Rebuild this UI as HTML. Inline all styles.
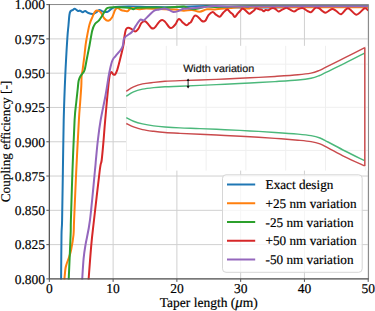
<!DOCTYPE html>
<html><head><meta charset="utf-8"><style>
html,body{margin:0;padding:0;background:#fff;width:375px;height:311px;overflow:hidden}
svg{display:block}
text{font-family:"Liberation Serif",serif;font-size:13.5px;fill:#000;text-rendering:geometricPrecision;stroke:#000;stroke-width:0.18px}
.sans{font-family:"Liberation Sans",sans-serif}
</style></head><body>
<svg width="375" height="311" viewBox="0 0 375 311">
<line x1="49.35" y1="4.6" x2="49.35" y2="278.9" stroke="#d0d0d0" stroke-width="1"/>
<line x1="113.12" y1="4.6" x2="113.12" y2="278.9" stroke="#d0d0d0" stroke-width="1"/>
<line x1="176.89" y1="4.6" x2="176.89" y2="278.9" stroke="#d0d0d0" stroke-width="1"/>
<line x1="240.66" y1="4.6" x2="240.66" y2="278.9" stroke="#d0d0d0" stroke-width="1"/>
<line x1="304.43" y1="4.6" x2="304.43" y2="278.9" stroke="#d0d0d0" stroke-width="1"/>
<line x1="368.20" y1="4.6" x2="368.20" y2="278.9" stroke="#d0d0d0" stroke-width="1"/>
<line x1="49.35" y1="278.90" x2="368.2" y2="278.90" stroke="#d0d0d0" stroke-width="1"/>
<line x1="49.35" y1="244.61" x2="368.2" y2="244.61" stroke="#d0d0d0" stroke-width="1"/>
<line x1="49.35" y1="210.32" x2="368.2" y2="210.32" stroke="#d0d0d0" stroke-width="1"/>
<line x1="49.35" y1="176.04" x2="368.2" y2="176.04" stroke="#d0d0d0" stroke-width="1"/>
<line x1="49.35" y1="141.75" x2="368.2" y2="141.75" stroke="#d0d0d0" stroke-width="1"/>
<line x1="49.35" y1="107.46" x2="368.2" y2="107.46" stroke="#d0d0d0" stroke-width="1"/>
<line x1="49.35" y1="73.18" x2="368.2" y2="73.18" stroke="#d0d0d0" stroke-width="1"/>
<line x1="49.35" y1="38.89" x2="368.2" y2="38.89" stroke="#d0d0d0" stroke-width="1"/>
<line x1="49.35" y1="4.60" x2="368.2" y2="4.60" stroke="#d0d0d0" stroke-width="1"/>
<rect x="126.4" y="45.8" width="241.90" height="124.80" fill="#fff"/>
<line x1="126.50" y1="45.8" x2="126.50" y2="170.6" stroke="#efefef" stroke-width="1"/>
<line x1="166.30" y1="45.8" x2="166.30" y2="170.6" stroke="#efefef" stroke-width="1"/>
<line x1="206.10" y1="45.8" x2="206.10" y2="170.6" stroke="#efefef" stroke-width="1"/>
<line x1="245.90" y1="45.8" x2="245.90" y2="170.6" stroke="#efefef" stroke-width="1"/>
<line x1="285.70" y1="45.8" x2="285.70" y2="170.6" stroke="#efefef" stroke-width="1"/>
<line x1="325.50" y1="45.8" x2="325.50" y2="170.6" stroke="#efefef" stroke-width="1"/>
<line x1="365.30" y1="45.8" x2="365.30" y2="170.6" stroke="#efefef" stroke-width="1"/>
<line x1="126.4" y1="64.2" x2="368.3" y2="64.2" stroke="#efefef" stroke-width="1"/>
<line x1="126.4" y1="107.3" x2="368.3" y2="107.3" stroke="#efefef" stroke-width="1"/>
<line x1="126.4" y1="150.4" x2="368.3" y2="150.4" stroke="#efefef" stroke-width="1"/>
<path d="M126.30,91.30 C127.50,90.57 130.80,88.13 133.50,86.90 C136.20,85.67 139.13,84.65 142.50,83.90 C145.87,83.15 149.95,82.83 153.70,82.40 C157.45,81.97 160.62,81.60 165.00,81.30 C169.38,81.00 174.17,80.81 180.00,80.60 C185.83,80.39 192.50,80.28 200.00,80.02 C207.50,79.75 216.67,79.36 225.00,79.00 C233.33,78.64 241.67,78.27 250.00,77.84 C258.33,77.41 267.00,76.92 275.00,76.41 C283.00,75.89 292.00,75.32 298.00,74.77 C304.00,74.22 307.50,73.79 311.00,73.10 C314.50,72.41 316.50,71.58 319.00,70.60 C321.50,69.62 321.67,69.37 326.00,67.20 C330.33,65.03 338.53,60.87 345.00,57.60 C351.47,54.33 361.50,49.27 364.80,47.60" fill="none" stroke="#c94a4c" stroke-width="1.45"/>
<path d="M126.30,96.30 C127.50,95.55 130.80,93.00 133.50,91.80 C136.20,90.60 139.13,89.80 142.50,89.10 C145.87,88.40 149.95,87.98 153.70,87.60 C157.45,87.22 160.62,87.03 165.00,86.80 C169.38,86.57 174.17,86.44 180.00,86.20 C185.83,85.96 192.50,85.68 200.00,85.36 C207.50,85.03 216.67,84.64 225.00,84.26 C233.33,83.87 241.67,83.49 250.00,83.05 C258.33,82.60 267.00,82.11 275.00,81.60 C283.00,81.09 292.00,80.56 298.00,80.00 C304.00,79.43 307.50,78.92 311.00,78.20 C314.50,77.48 316.50,76.67 319.00,75.70 C321.50,74.73 321.67,74.48 326.00,72.40 C330.33,70.32 338.58,66.40 345.00,63.20 C351.42,60.00 361.25,54.87 364.50,53.20" fill="none" stroke="#4bb87b" stroke-width="1.45"/>
<path d="M126.30,117.60 C127.50,118.20 130.80,120.15 133.50,121.20 C136.20,122.25 139.13,123.12 142.50,123.90 C145.87,124.68 149.95,125.38 153.70,125.90 C157.45,126.42 160.62,126.67 165.00,127.00 C169.38,127.33 174.17,127.63 180.00,127.90 C185.83,128.17 192.50,128.31 200.00,128.60 C207.50,128.90 216.67,129.30 225.00,129.69 C233.33,130.07 241.67,130.46 250.00,130.91 C258.33,131.37 267.00,131.88 275.00,132.42 C283.00,132.95 292.00,133.58 298.00,134.11 C304.00,134.64 307.33,134.95 311.00,135.60 C314.67,136.25 317.17,136.93 320.00,138.00 C322.83,139.07 323.83,139.83 328.00,142.00 C332.17,144.17 338.92,147.88 345.00,151.00 C351.08,154.12 361.25,159.08 364.50,160.70" fill="none" stroke="#4bb87b" stroke-width="1.45"/>
<path d="M126.30,123.50 C127.50,124.07 130.80,125.88 133.50,126.90 C136.20,127.92 139.13,128.87 142.50,129.60 C145.87,130.33 149.95,130.82 153.70,131.30 C157.45,131.78 160.62,132.15 165.00,132.50 C169.38,132.85 174.17,133.09 180.00,133.40 C185.83,133.71 192.50,133.99 200.00,134.34 C207.50,134.69 216.67,135.08 225.00,135.48 C233.33,135.89 241.67,136.31 250.00,136.80 C258.33,137.28 267.00,137.83 275.00,138.40 C283.00,138.97 292.00,139.66 298.00,140.20 C304.00,140.73 307.33,140.98 311.00,141.60 C314.67,142.22 317.17,142.87 320.00,143.90 C322.83,144.93 323.83,145.65 328.00,147.80 C332.17,149.95 338.87,153.78 345.00,156.80 C351.13,159.82 361.50,164.38 364.80,165.90" fill="none" stroke="#c94a4c" stroke-width="1.45"/>
<line x1="364.8" y1="47.6" x2="364.8" y2="165.9" stroke="#c94a4c" stroke-width="1.45"/>
<line x1="188.1" y1="79.5" x2="188.1" y2="87.5" stroke="#111" stroke-width="0.9"/>
<path d="M186.6,81 L188.1,78.6 L189.6,81 Z M186.6,86 L188.1,88.4 L189.6,86 Z" fill="#111"/>
<text class="sans" x="183.2" y="71.8" textLength="71" lengthAdjust="spacingAndGlyphs" style="font-size:10.4px;fill:#151515">Width variation</text>
<path d="M61.10,279.50 C61.17,272.08 61.33,244.92 61.50,235.00 C61.67,225.08 61.87,230.83 62.10,220.00 C62.33,209.17 62.63,186.67 62.90,170.00 C63.17,153.33 63.30,135.83 63.70,120.00 C64.10,104.17 64.70,88.55 65.30,75.00 C65.90,61.45 66.77,47.03 67.30,38.70 C67.83,30.37 68.15,28.95 68.50,25.00 C68.85,21.05 69.08,17.27 69.40,15.00 C69.72,12.73 69.90,12.20 70.40,11.40 C70.90,10.60 71.67,10.63 72.40,10.20 C73.13,9.77 73.87,8.67 74.80,8.80 C75.73,8.93 77.13,10.70 78.00,11.00 C78.87,11.30 79.20,10.40 80.00,10.60 C80.80,10.80 81.93,12.13 82.80,12.20 C83.67,12.27 84.27,10.87 85.20,11.00 C86.13,11.13 87.12,12.50 88.40,13.00 C89.68,13.50 91.63,14.08 92.90,14.00 C94.17,13.92 94.93,13.15 96.00,12.50 C97.07,11.85 98.22,10.28 99.30,10.10 C100.38,9.92 101.22,11.08 102.50,11.40 C103.78,11.72 105.72,12.25 107.00,12.00 C108.28,11.75 109.13,10.63 110.20,9.90 C111.27,9.17 111.77,8.12 113.40,7.60 C115.03,7.08 117.23,6.97 120.00,6.80 C122.77,6.63 125.00,6.57 130.00,6.60 C135.00,6.63 143.33,6.90 150.00,7.00 C156.67,7.10 160.50,7.37 170.00,7.20 C179.50,7.03 195.33,5.95 207.00,6.00 C218.67,6.05 229.50,7.25 240.00,7.50 C250.50,7.75 260.00,7.58 270.00,7.50 C280.00,7.42 283.63,7.08 300.00,7.00 C316.37,6.92 356.83,7.00 368.20,7.00" fill="none" stroke="#1f77b4" stroke-width="2" stroke-linejoin="round" stroke-linecap="butt"/>
<path d="M64.40,279.50 C64.57,277.75 65.03,271.58 65.40,269.00 C65.77,266.42 65.97,266.05 66.60,264.00 C67.23,261.95 68.43,259.12 69.20,256.70 C69.97,254.28 70.48,253.12 71.20,249.50 C71.92,245.88 73.02,239.92 73.50,235.00 C73.98,230.08 73.63,230.83 74.10,220.00 C74.57,209.17 75.50,186.67 76.30,170.00 C77.10,153.33 78.25,131.33 78.90,120.00 C79.55,108.67 79.80,107.67 80.20,102.00 C80.60,96.33 81.07,90.33 81.30,86.00 C81.53,81.67 81.38,78.67 81.60,76.00 C81.82,73.33 82.12,73.50 82.60,70.00 C83.08,66.50 84.00,59.17 84.50,55.00 C85.00,50.83 85.25,47.72 85.60,45.00 C85.95,42.28 85.95,42.12 86.60,38.70 C87.25,35.28 88.50,28.18 89.50,24.50 C90.50,20.82 91.77,18.60 92.60,16.60 C93.43,14.60 93.82,13.53 94.50,12.50 C95.18,11.47 95.68,10.47 96.70,10.40 C97.72,10.33 99.32,10.75 100.60,12.10 C101.88,13.45 103.12,17.07 104.40,18.50 C105.68,19.93 107.00,20.92 108.30,20.70 C109.60,20.48 111.07,18.98 112.20,17.20 C113.33,15.42 114.18,11.52 115.10,10.00 C116.02,8.48 116.72,8.10 117.70,8.10 C118.68,8.10 119.80,9.53 121.00,10.00 C122.20,10.47 123.77,10.70 124.90,10.90 C126.03,11.10 126.85,11.65 127.80,11.20 C128.75,10.75 129.40,8.65 130.60,8.20 C131.80,7.75 133.60,8.32 135.00,8.50 C136.40,8.68 137.17,9.30 139.00,9.30 C140.83,9.30 142.50,8.55 146.00,8.50 C149.50,8.45 155.17,8.82 160.00,9.00 C164.83,9.18 171.05,9.32 175.00,9.60 C178.95,9.88 180.87,10.63 183.70,10.70 C186.53,10.77 189.35,9.83 192.00,10.00 C194.65,10.17 197.10,11.82 199.60,11.70 C202.10,11.58 204.43,9.68 207.00,9.30 C209.57,8.92 211.17,9.62 215.00,9.40 C218.83,9.18 225.83,8.35 230.00,8.00 C234.17,7.65 236.93,7.20 240.00,7.30 C243.07,7.40 245.73,8.62 248.40,8.60 C251.07,8.58 247.40,7.43 256.00,7.20 C264.60,6.97 281.30,7.18 300.00,7.20 C318.70,7.22 356.83,7.28 368.20,7.30" fill="none" stroke="#ff7f0e" stroke-width="2" stroke-linejoin="round" stroke-linecap="butt"/>
<path d="M68.70,279.50 C69.02,272.08 70.23,244.92 70.60,235.00 C70.97,225.08 70.58,230.83 70.90,220.00 C71.22,209.17 71.88,186.67 72.50,170.00 C73.12,153.33 73.97,131.33 74.60,120.00 C75.23,108.67 75.80,107.00 76.30,102.00 C76.80,97.00 77.22,93.50 77.60,90.00 C77.98,86.50 78.15,83.25 78.60,81.00 C79.05,78.75 79.65,77.75 80.30,76.50 C80.95,75.25 81.78,74.58 82.50,73.50 C83.22,72.42 83.85,72.58 84.60,70.00 C85.35,67.42 86.18,62.08 87.00,58.00 C87.82,53.92 88.63,50.05 89.50,45.50 C90.37,40.95 91.32,34.23 92.20,30.70 C93.08,27.17 93.67,26.02 94.80,24.30 C95.93,22.58 97.72,21.90 99.00,20.40 C100.28,18.90 101.48,16.90 102.50,15.30 C103.52,13.70 104.23,12.03 105.10,10.80 C105.97,9.57 106.05,8.48 107.70,7.90 C109.35,7.32 112.12,7.37 115.00,7.30 C117.88,7.23 122.50,7.38 125.00,7.50 C127.50,7.62 128.60,7.70 130.00,8.00 C131.40,8.30 132.23,9.33 133.40,9.30 C134.57,9.27 134.23,8.10 137.00,7.80 C139.77,7.50 145.33,7.52 150.00,7.50 C154.67,7.48 160.83,7.78 165.00,7.70 C169.17,7.62 171.88,7.18 175.00,7.00 C178.12,6.82 181.53,6.43 183.70,6.60 C185.87,6.77 186.28,7.55 188.00,8.00 C189.72,8.45 192.00,9.30 194.00,9.30 C196.00,9.30 197.83,8.45 200.00,8.00 C202.17,7.55 203.67,6.77 207.00,6.60 C210.33,6.43 211.83,7.13 220.00,7.00 C228.17,6.87 247.50,6.00 256.00,5.80 C264.50,5.60 263.67,5.83 271.00,5.80 C278.33,5.77 283.80,5.57 300.00,5.60 C316.20,5.63 356.83,5.93 368.20,6.00" fill="none" stroke="#2ca02c" stroke-width="2" stroke-linejoin="round" stroke-linecap="butt"/>
<path d="M88.60,279.50 C89.05,273.72 90.40,254.72 91.30,244.80 C92.20,234.88 92.58,232.47 94.00,220.00 C95.42,207.53 98.52,180.00 99.80,170.00 C101.08,160.00 101.07,165.00 101.70,160.00 C102.33,155.00 103.02,146.67 103.60,140.00 C104.18,133.33 104.30,130.00 105.20,120.00 C106.10,110.00 108.02,87.97 109.00,80.00 C109.98,72.03 110.43,73.18 111.10,72.20 C111.77,71.22 112.37,73.68 113.00,74.10 C113.63,74.52 114.25,75.23 114.90,74.70 C115.55,74.17 116.15,73.03 116.90,70.90 C117.65,68.77 118.55,65.12 119.40,61.90 C120.25,58.68 121.25,54.82 122.00,51.60 C122.75,48.38 123.50,45.07 123.90,42.60 C124.30,40.13 124.05,39.02 124.40,36.80 C124.75,34.58 125.38,30.82 126.00,29.30 C126.62,27.78 127.22,27.78 128.10,27.70 C128.98,27.62 130.13,28.17 131.30,28.80 C132.47,29.43 133.93,31.50 135.10,31.50 C136.27,31.50 137.23,30.23 138.30,28.80 C139.37,27.37 140.35,24.15 141.50,22.90 C142.65,21.65 143.97,20.93 145.20,21.30 C146.43,21.67 147.93,24.05 148.90,25.10 C149.87,26.15 150.28,27.02 151.00,27.60 C151.72,28.18 152.45,28.73 153.20,28.60 C153.95,28.47 154.78,27.57 155.50,26.80 C156.22,26.03 156.75,24.97 157.50,24.00 C158.25,23.03 159.20,21.67 160.00,21.00 C160.80,20.33 161.55,19.97 162.30,20.00 C163.05,20.03 163.80,20.60 164.50,21.20 C165.20,21.80 165.78,22.67 166.50,23.60 C167.22,24.53 168.08,26.05 168.80,26.80 C169.52,27.55 170.10,28.08 170.80,28.10 C171.50,28.12 172.20,27.57 173.00,26.90 C173.80,26.23 174.87,25.15 175.60,24.10 C176.33,23.05 176.85,21.43 177.40,20.60 C177.95,19.77 178.33,19.15 178.90,19.10 C179.47,19.05 180.12,19.70 180.80,20.30 C181.48,20.90 182.03,21.87 183.00,22.70 C183.97,23.53 185.55,25.23 186.60,25.30 C187.65,25.37 188.58,23.63 189.30,23.10 C190.02,22.57 190.02,23.33 190.90,22.10 C191.78,20.87 193.45,16.60 194.60,15.70 C195.75,14.80 196.57,15.82 197.80,16.70 C199.03,17.58 200.75,20.32 202.00,21.00 C203.25,21.68 204.22,21.78 205.30,20.80 C206.38,19.82 207.27,16.58 208.50,15.10 C209.73,13.62 211.47,11.98 212.70,11.90 C213.93,11.82 214.73,13.80 215.90,14.60 C217.07,15.40 218.45,17.05 219.70,16.70 C220.95,16.35 222.13,13.72 223.40,12.50 C224.67,11.28 226.12,9.38 227.30,9.40 C228.48,9.42 229.60,11.80 230.50,12.60 C231.40,13.40 231.98,13.48 232.70,14.20 C233.42,14.92 233.92,17.08 234.80,16.90 C235.68,16.72 237.02,14.20 238.00,13.10 C238.98,12.00 239.95,11.07 240.70,10.30 C241.45,9.53 241.70,8.47 242.50,8.50 C243.30,8.53 244.38,9.63 245.50,10.50 C246.62,11.37 248.13,13.43 249.20,13.70 C250.27,13.97 251.10,12.63 251.90,12.10 C252.70,11.57 253.30,11.13 254.00,10.50 C254.70,9.87 255.22,8.48 256.10,8.30 C256.98,8.12 258.32,9.13 259.30,9.40 C260.28,9.67 261.28,9.58 262.00,9.90 C262.72,10.22 262.98,11.30 263.60,11.30 C264.22,11.30 264.90,10.07 265.70,9.90 C266.50,9.73 267.42,10.57 268.40,10.30 C269.38,10.03 270.53,8.60 271.60,8.30 C272.67,8.00 273.65,7.97 274.80,8.50 C275.95,9.03 277.35,11.27 278.50,11.50 C279.65,11.73 280.80,10.33 281.70,9.90 C282.60,9.47 283.10,9.25 283.90,8.90 C284.70,8.55 285.53,7.72 286.50,7.80 C287.47,7.88 288.45,8.78 289.70,9.40 C290.95,10.02 292.67,11.50 294.00,11.50 C295.33,11.50 296.37,9.98 297.70,9.40 C299.03,8.82 300.90,8.08 302.00,8.00 C303.10,7.92 303.38,8.40 304.30,8.90 C305.22,9.40 306.35,10.47 307.50,11.00 C308.65,11.53 309.87,12.63 311.20,12.10 C312.53,11.57 314.17,8.43 315.50,7.80 C316.83,7.17 318.05,7.77 319.20,8.30 C320.35,8.83 321.25,10.28 322.40,11.00 C323.55,11.72 324.50,12.95 326.10,12.60 C327.70,12.25 330.30,9.17 332.00,8.90 C333.70,8.63 334.78,10.12 336.30,11.00 C337.82,11.88 339.15,14.65 341.10,14.20 C343.05,13.75 345.43,8.22 348.00,8.30 C350.57,8.38 353.75,14.70 356.50,14.70 C359.25,14.70 362.55,9.02 364.50,8.30 C366.45,7.58 367.58,10.05 368.20,10.40" fill="none" stroke="#d62728" stroke-width="2" stroke-linejoin="round" stroke-linecap="butt"/>
<path d="M82.20,279.50 C82.43,276.02 83.05,264.38 83.60,258.60 C84.15,252.82 84.43,251.23 85.50,244.80 C86.57,238.37 88.42,232.47 90.00,220.00 C91.58,207.53 94.02,180.00 95.00,170.00 C95.98,160.00 95.42,165.00 95.90,160.00 C96.38,155.00 97.13,146.50 97.90,140.00 C98.67,133.50 99.22,128.50 100.50,121.00 C101.78,113.50 104.25,102.42 105.60,95.00 C106.95,87.58 107.80,81.08 108.60,76.50 C109.40,71.92 109.83,70.00 110.40,67.50 C110.97,65.00 111.47,63.03 112.00,61.50 C112.53,59.97 113.03,59.17 113.60,58.30 C114.17,57.43 114.67,57.15 115.40,56.30 C116.13,55.45 117.10,54.28 118.00,53.20 C118.90,52.12 119.98,51.08 120.80,49.80 C121.62,48.52 122.30,47.47 122.90,45.50 C123.50,43.53 122.90,40.25 124.40,38.00 C125.90,35.75 130.03,33.98 131.90,32.00 C133.77,30.02 134.18,28.17 135.60,26.10 C137.02,24.03 139.07,20.57 140.40,19.60 C141.73,18.63 142.18,20.98 143.60,20.30 C145.02,19.62 147.12,17.10 148.90,15.50 C150.68,13.90 152.60,11.68 154.30,10.70 C156.00,9.72 157.43,9.98 159.10,9.60 C160.77,9.22 162.58,8.32 164.30,8.40 C166.02,8.48 167.90,9.50 169.40,10.10 C170.90,10.70 171.80,11.85 173.30,12.00 C174.80,12.15 176.68,11.53 178.40,11.00 C180.12,10.47 181.22,9.27 183.60,8.80 C185.98,8.33 189.13,8.50 192.70,8.20 C196.27,7.90 201.28,7.35 205.00,7.00 C208.72,6.65 209.17,6.20 215.00,6.10 C220.83,6.00 214.47,6.38 240.00,6.40 C265.53,6.42 346.83,6.23 368.20,6.20" fill="none" stroke="#9467bd" stroke-width="2" stroke-linejoin="round" stroke-linecap="butt"/>
<line x1="49.35" y1="4.5" x2="368.6" y2="4.5" stroke="#8c8c8c" stroke-width="1.1"/>
<line x1="368.5" y1="4.5" x2="368.5" y2="278.9" stroke="#8c8c8c" stroke-width="1.1"/>
<line x1="49.35" y1="278.9" x2="368.6" y2="278.9" stroke="#555555" stroke-width="1.25"/>
<line x1="49.35" y1="4" x2="49.35" y2="279.5" stroke="#555555" stroke-width="1.25"/>
<line x1="49.35" y1="278.9" x2="49.35" y2="281.9" stroke="#555555" stroke-width="1"/>
<text x="49.35" y="293" text-anchor="middle">0</text>
<line x1="113.12" y1="278.9" x2="113.12" y2="281.9" stroke="#555555" stroke-width="1"/>
<text x="113.12" y="293" text-anchor="middle">10</text>
<line x1="176.89" y1="278.9" x2="176.89" y2="281.9" stroke="#555555" stroke-width="1"/>
<text x="176.89" y="293" text-anchor="middle">20</text>
<line x1="240.66" y1="278.9" x2="240.66" y2="281.9" stroke="#555555" stroke-width="1"/>
<text x="240.66" y="293" text-anchor="middle">30</text>
<line x1="304.43" y1="278.9" x2="304.43" y2="281.9" stroke="#555555" stroke-width="1"/>
<text x="304.43" y="293" text-anchor="middle">40</text>
<line x1="368.20" y1="278.9" x2="368.20" y2="281.9" stroke="#555555" stroke-width="1"/>
<text x="368.20" y="293" text-anchor="middle">50</text>
<line x1="46.35" y1="278.90" x2="49.35" y2="278.90" stroke="#555555" stroke-width="1"/>
<text x="45" y="283.70" text-anchor="end">0.800</text>
<line x1="46.35" y1="244.61" x2="49.35" y2="244.61" stroke="#555555" stroke-width="1"/>
<text x="45" y="249.41" text-anchor="end">0.825</text>
<line x1="46.35" y1="210.32" x2="49.35" y2="210.32" stroke="#555555" stroke-width="1"/>
<text x="45" y="215.12" text-anchor="end">0.850</text>
<line x1="46.35" y1="176.04" x2="49.35" y2="176.04" stroke="#555555" stroke-width="1"/>
<text x="45" y="180.84" text-anchor="end">0.875</text>
<line x1="46.35" y1="141.75" x2="49.35" y2="141.75" stroke="#555555" stroke-width="1"/>
<text x="45" y="146.55" text-anchor="end">0.900</text>
<line x1="46.35" y1="107.46" x2="49.35" y2="107.46" stroke="#555555" stroke-width="1"/>
<text x="45" y="112.26" text-anchor="end">0.925</text>
<line x1="46.35" y1="73.18" x2="49.35" y2="73.18" stroke="#555555" stroke-width="1"/>
<text x="45" y="77.98" text-anchor="end">0.950</text>
<line x1="46.35" y1="38.89" x2="49.35" y2="38.89" stroke="#555555" stroke-width="1"/>
<text x="45" y="43.69" text-anchor="end">0.975</text>
<line x1="46.35" y1="4.60" x2="49.35" y2="4.60" stroke="#555555" stroke-width="1"/>
<text x="45" y="9.40" text-anchor="end">1.000</text>
<text x="208.78" y="307.3" text-anchor="middle">Taper length (<tspan font-style="italic" style="font-size:14.8px">μ</tspan>m)</text>
<text transform="translate(10.4,141.5) rotate(-90)" text-anchor="middle" style="font-size:13.2px">Coupling efficiency [-]</text>
<rect x="222.5" y="174.8" width="139.70" height="97.50" rx="3.5" fill="#fff" fill-opacity="0.8" stroke="#d6d6d6" stroke-width="1"/>
<line x1="227" y1="184.50" x2="255.2" y2="184.50" stroke="#1f77b4" stroke-width="2"/>
<text x="265.6" y="189.20" style="font-size:13.2px">Exact design</text>
<line x1="227" y1="203.25" x2="255.2" y2="203.25" stroke="#ff7f0e" stroke-width="2"/>
<text x="265.6" y="207.95" style="font-size:13.2px">+25 nm variation</text>
<line x1="227" y1="222.00" x2="255.2" y2="222.00" stroke="#2ca02c" stroke-width="2"/>
<text x="265.6" y="226.70" style="font-size:13.2px">-25 nm variation</text>
<line x1="227" y1="240.75" x2="255.2" y2="240.75" stroke="#d62728" stroke-width="2"/>
<text x="265.6" y="245.45" style="font-size:13.2px">+50 nm variation</text>
<line x1="227" y1="259.50" x2="255.2" y2="259.50" stroke="#9467bd" stroke-width="2"/>
<text x="265.6" y="264.20" style="font-size:13.2px">-50 nm variation</text>
</svg></body></html>
